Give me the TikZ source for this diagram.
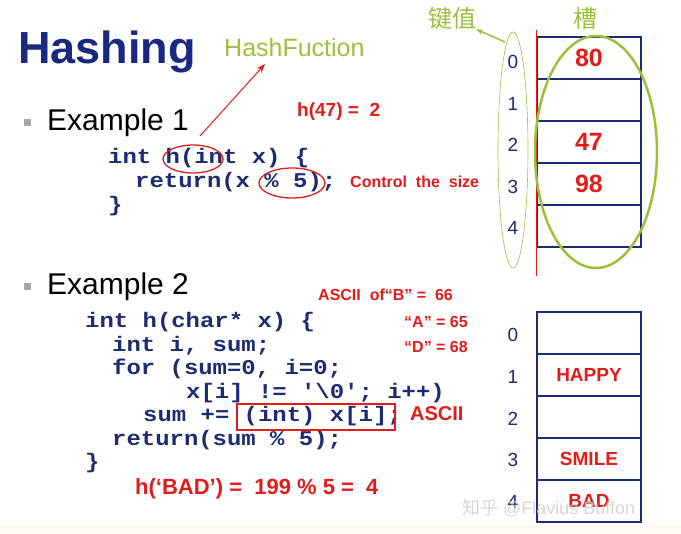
\documentclass[tikz,border=0pt]{standalone}
\usetikzlibrary{arrows.meta}
\usepackage{fontspec}
\setmainfont{Liberation Sans}
\newfontfamily\mono[FakeStretch=1.14]{Liberation Mono}
\newfontfamily\cjk{Noto Sans CJK SC}
\definecolor{navy}{HTML}{1C2C72}
\definecolor{hred}{HTML}{E31B1B}
\definecolor{hgreen}{HTML}{9BC03A}
\begin{document}
\begin{tikzpicture}[x=1pt,y=-1pt,
  code/.style={anchor=west,inner sep=0,font=\mono\bfseries\fontsize{21}{21}\selectfont,text=navy},
  rtxt/.style={inner sep=0,font=\bfseries\fontsize{16}{16}\selectfont,text=hred},
  idx/.style={inner sep=0,font=\fontsize{19}{19}\selectfont,text=navy},
  cell/.style={draw=navy,line width=2pt,minimum width=104pt,minimum height=42pt,inner sep=0,font=\bfseries\fontsize{25}{25}\selectfont,text=hred},
  cellb/.style={cell,font=\bfseries\fontsize{19}{19}\selectfont},
  bul/.style={fill=gray!70,minimum size=7pt,inner sep=0},
  ex/.style={anchor=west,inner sep=0,font=\fontsize{30}{30}\selectfont}]
\useasboundingbox (0,0) rectangle (681,534);
\fill[orange!5] (0,525) rectangle (681,534);
\node[anchor=west,inner sep=0,font=\bfseries\fontsize{45}{45}\selectfont,text=navy!90!blue] (title) at (18,52) {Hashing};
\node[anchor=west,inner sep=0,font=\fontsize{25}{25}\selectfont,text=hgreen] (hf) at (224,48) {HashFuction};
\node[bul] (b1) at (27,123) {};
\node[ex] (e1) at (47,123) {Example 1};
\node[rtxt,anchor=west,font=\bfseries\fontsize{19}{19}\selectfont] (h47) at (297,112) {h(47) =\ \ 2};
\node[code] (c1) at (108,158) {int h(int x) \{};
\node[code] (c2) at (135,182) {return(x \% 5);};
\node[code] (c3) at (108,206) {\}};
\node[rtxt,anchor=west] (cts) at (350,182) {Control\ \ the\ \ size};
\draw[hred,line width=1.3pt] (193,159) ellipse[x radius=30,y radius=14];
\coordinate (ea) at (200,136);
\coordinate (ha) at (265,64);
\draw[hred,line width=1.3pt] (292,183) ellipse[x radius=33,y radius=15];
\draw[hred,line width=1pt,-{Stealth[length=9pt]}] (ea) -- (ha);
% table 1
\foreach \i/\v in {0/80,1/,2/47,3/98,4/}{
  \node[cell] (t\i) at (589,{58+42*\i}) {\v};
  \node[idx] (k\i) at (513,{62+41.5*\i}) {\i};
}
\draw[hred,line width=1pt] (536,30) -- (536,276);
\draw[hgreen,line width=0.6pt] (513,150) ellipse[x radius=15,y radius=118];
\draw[hgreen,line width=2.5pt] (596,152) ellipse[x radius=61,y radius=116];
\node[inner sep=0,font=\cjk\fontsize{24}{24}\selectfont,text=hgreen] (kv) at (452,18) {键值};
\node[inner sep=0,font=\cjk\fontsize{24}{24}\selectfont,text=hgreen] (cao) at (585,18) {槽};
\coordinate (eg) at (505,42);
\draw[hgreen,line width=1.5pt,-{Stealth[length=7pt]}] (eg) -- (kv.south east);
% example 2
\node[bul] (b2) at (27,287) {};
\node[ex] (e2) at (47,287) {Example 2};
\node[rtxt,anchor=west] (asb) at (318,295) {ASCII\ \ of“B” =\ \ 66};
\node[rtxt,anchor=east] (asa) at (468,322) {“A” = 65};
\node[rtxt,anchor=east] (asd) at (468,347) {“D” = 68};
\node[code] (d1) at (85,322) {int h(char* x) \{};
\node[code] (d2) at (112,346) {int i, sum;};
\node[code] (d3) at (112,369) {for (sum=0, i=0;};
\node[code] (d4) at (186,393) {x[i] != '\textbackslash0'; i++)};
\node[code] (d5) at (143,416) {sum += (int) x[i];};
\node[code] (d6) at (112,440) {return(sum \% 5);};
\node[code] (d7) at (85,463) {\}};
\node[draw=hred,line width=1.3pt,minimum width=158pt,minimum height=26pt,inner sep=0] (rb) at (316,417) {};
\node[rtxt,anchor=west,font=\bfseries\fontsize{20}{20}\selectfont] (asc) at (410,414) {ASCII};
\node[rtxt,anchor=west,font=\bfseries\fontsize{22}{22}\selectfont] (bad) at (135,489) {h(‘BAD’) =\ \ 199 \% 5 =\ \ 4};
\foreach \i/\v in {0/,1/HAPPY,2/,3/SMILE,4/BAD}{
  \node[cellb] (s\i) at (589,{333+42*\i}) {\v};
  \node[idx] (m\i) at (513,{335+41.7*\i}) {\i};
}
\node[anchor=west,inner sep=0,font=\fontsize{18}{18}\selectfont,text=gray!40,opacity=0.8] (wm) at (462,508) {{\cjk 知乎} @Flavius Buffon};
\end{tikzpicture}
\end{document}
